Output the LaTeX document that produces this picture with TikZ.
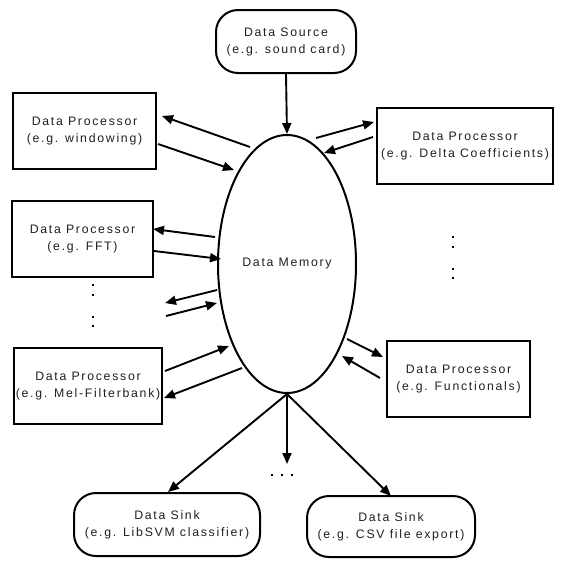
\documentclass[tikz,border=0pt]{standalone}
\usepackage{fontspec}
\setmainfont{Liberation Sans}[LetterSpace=14]
\usetikzlibrary{shapes.geometric,arrows.meta}
\tikzset{
  txt/.style={font=\fontsize{12.3}{17}\selectfont,text=black!88},
  proc/.style={draw,line width=2pt,inner sep=0pt,align=center,txt},
  rbox/.style={proc,rounded corners=22pt},
  arr/.style={line width=1.9pt,-{Triangle[length=11pt,width=9pt]}},
  dot/.style={fill,rectangle,inner sep=0pt,minimum size=2.8pt}
}
\begin{document}
\begin{tikzpicture}[x=1pt,y=-1pt]
\useasboundingbox (0,0) rectangle (569,576);
\node[rbox,minimum width=140pt,minimum height=63pt] (src) at (286,41.5) {Data Source\\(e.g. sound card)};
\node[draw,ellipse,line width=2pt,minimum width=138pt,minimum height=258pt,inner sep=0pt,txt] (mem) at (287,264) {Data Memory};
\node[proc,minimum width=143pt,minimum height=76pt] (win) at (84.5,131) {Data Processor\\(e.g. windowing)};
\node[proc,minimum width=176pt,minimum height=76pt] (delta) at (465,146) {Data Processor\\(e.g. Delta Coefficients)};
\node[proc,minimum width=141pt,minimum height=76pt] (fft) at (82.5,239) {Data Processor\\(e.g. FFT)};
\node[proc,minimum width=148pt,minimum height=76pt] (mel) at (88,386) {Data Processor\\(e.g. Mel-Filterbank)};
\node[proc,minimum width=143pt,minimum height=76pt] (func) at (458.5,379) {Data Processor\\(e.g. Functionals)};
\node[rbox,minimum width=186pt,minimum height=63pt] (sinkA) at (167,524.5) {Data Sink\\(e.g. LibSVM classifier)};
\node[rbox,minimum width=168pt,minimum height=61pt] (sinkB) at (391,526.5) {Data Sink\\(e.g. CSV file export)};
% coordinates for parallel arrow pairs
\coordinate (w1) at (250,147); \coordinate (w2) at (162,116);
\coordinate (w3) at (158,144); \coordinate (w4) at (234,170);
\coordinate (d1) at (316,138); \coordinate (d2) at (374,122);
\coordinate (d3) at (373,137); \coordinate (d4) at (324,153);
\coordinate (f1) at (215,237); \coordinate (f2) at (153,229);
\coordinate (f3) at (154,251); \coordinate (f4) at (221,259);
\coordinate (x1) at (217,290); \coordinate (x2) at (165,303);
\coordinate (x3) at (166,316); \coordinate (x4) at (217,303);
\coordinate (m1) at (165,371); \coordinate (m2) at (229,346);
\coordinate (m3) at (242,368); \coordinate (m4) at (164,398);
\coordinate (u1) at (347,339); \coordinate (u2) at (383,357);
\coordinate (u3) at (380,378); \coordinate (u4) at (342,356);
\coordinate (sA) at (168,492); \coordinate (sM) at (287,464); \coordinate (sB) at (391,496);
\draw[arr] (src.south) -- (mem.north);
\draw[arr] (w1) -- (w2); \draw[arr] (w3) -- (w4);
\draw[arr] (d1) -- (d2); \draw[arr] (d3) -- (d4);
\draw[arr] (f1) -- (f2); \draw[arr] (f3) -- (f4);
\draw[arr] (x1) -- (x2); \draw[arr] (x3) -- (x4);
\draw[arr] (m1) -- (m2); \draw[arr] (m3) -- (m4);
\draw[arr] (u1) -- (u2); \draw[arr] (u3) -- (u4);
\draw[arr] (mem.south) -- (sA);
\draw[arr] (mem.south) -- (sM);
\draw[arr] (mem.south) -- (sB);
% dots
\foreach \y/\n in {285/a,295/b,317/c,326/d} {\node[dot] (ld\n) at (93,\y) {};}
\foreach \y/\n in {237/a,247/b,269/c,278/d} {\node[dot] (rd\n) at (453,\y) {};}
\foreach \x/\n in {272/a,282/b,292/c} {\node[dot] (bd\n) at (\x,475) {};}
\end{tikzpicture}
\end{document}
